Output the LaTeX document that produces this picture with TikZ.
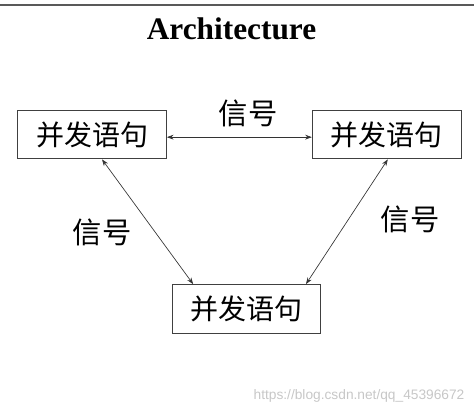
\documentclass[tikz,border=0pt]{standalone}
\usepackage{fontspec}
\setmainfont{Liberation Serif}
\newfontfamily\cjk{Noto Sans CJK SC}
\newfontfamily\wmfont{Liberation Sans}
\usetikzlibrary{arrows.meta, positioning}

\begin{document}
\begin{tikzpicture}[
    x=0.75pt, y=-0.75pt,
    box/.style={rectangle, draw=black!75, line width=0.8pt, minimum width=111.5pt, minimum height=36.5pt, inner sep=0pt, font=\cjk\fontsize{21}{21}\selectfont, text centered},
    sig/.style={font=\cjk\fontsize{22}{22}\selectfont, inner sep=0pt},
    arrow/.style={{Stealth[length=5pt,width=3.6pt]}-{Stealth[length=5pt,width=3.6pt]}, draw=black!80, line width=0.5pt}
]
\useasboundingbox (0,0) rectangle (474,410);
% frame top line
\draw[black!65, line width=1.3pt] (0,5) -- (474,5);

\node[font=\bfseries\fontsize{23.5}{23.5}\selectfont, anchor=base] (title) at (231.5,40) {Architecture};

\node[box] (stmt1) at (92,134.5) {并发语句};
\node[box, right=108.75pt of stmt1] (stmt2) {并发语句};
\node[box] (stmt3) at (246.5,309) {并发语句};

\node[sig] (sig12) at (248,113) {信号};
\node[sig] (sig13) at (102,232) {信号};
\node[sig] (sig23) at (410,219) {信号};

\draw[arrow] ([yshift=-2pt]stmt1.east) -- ([yshift=-2pt]stmt2.west);
\draw[arrow] ([xshift=7.5pt]stmt1.south) -- ([xshift=-40pt]stmt3.north);
\draw[arrow] ([xshift=0.8pt]stmt2.south) -- ([xshift=44.6pt]stmt3.north);

% watermark
\node[font=\wmfont\fontsize{10.3}{10.3}\selectfont, text=black!22, anchor=base] (wm) at (359,399) {https://blog.csdn.net/qq\_45396672};
\end{tikzpicture}
\end{document}
